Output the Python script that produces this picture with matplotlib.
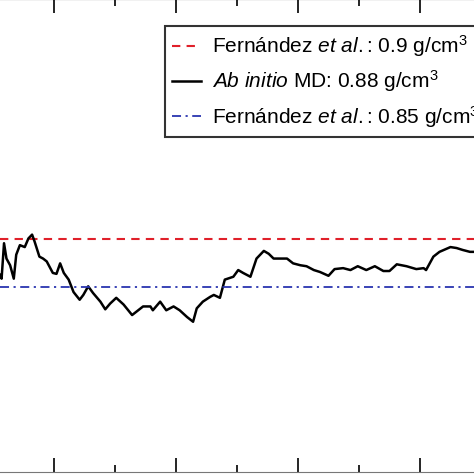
import matplotlib
matplotlib.use("Agg")
import matplotlib.pyplot as plt
from matplotlib.ticker import MultipleLocator

plt.rcParams['font.family'] = ['Liberation Sans', 'DejaVu Sans']
plt.rcParams['mathtext.fontset'] = 'custom'
plt.rcParams['mathtext.rm'] = 'Liberation Sans'
plt.rcParams['mathtext.it'] = 'Liberation Sans:italic'

# density trace from ab initio MD (g/cm^3), time in arbitrary plot units
time = [0.56, 0.57, 0.59, 0.61, 0.64, 0.67, 0.69, 0.72, 0.76, 0.79, 0.82, 0.84,
        0.88, 0.91, 0.94, 0.99, 1.02, 1.05, 1.08, 1.12, 1.16, 1.21, 1.24, 1.28,
        1.32, 1.38, 1.42, 1.46, 1.51, 1.57, 1.64, 1.68, 1.73, 1.79, 1.81, 1.87,
        1.92, 1.98, 2.03, 2.09, 2.14, 2.17, 2.22, 2.28, 2.31, 2.36, 2.40, 2.47,
        2.51, 2.55, 2.61, 2.66, 2.72, 2.76, 2.80, 2.85, 2.91, 2.96, 3.02, 3.07,
        3.13, 3.18, 3.25, 3.30, 3.37, 3.43, 3.49, 3.56, 3.63, 3.70, 3.75, 3.81,
        3.89, 3.97, 4.03, 4.05, 4.11, 4.16, 4.25, 4.30, 4.35, 4.41, 4.44]
density = [0.863, 0.859, 0.896, 0.880, 0.873, 0.859, 0.884, 0.894, 0.892, 0.901,
           0.905, 0.898, 0.882, 0.880, 0.877, 0.865, 0.864, 0.875, 0.865, 0.858,
           0.845, 0.837, 0.842, 0.851, 0.844, 0.835, 0.827, 0.833, 0.839, 0.832,
           0.821, 0.825, 0.830, 0.830, 0.826, 0.835, 0.826, 0.830, 0.826, 0.819,
           0.814, 0.828, 0.835, 0.840, 0.842, 0.839, 0.858, 0.861, 0.868, 0.865,
           0.861, 0.880, 0.888, 0.885, 0.880, 0.880, 0.880, 0.875, 0.873, 0.872,
           0.868, 0.866, 0.862, 0.869, 0.870, 0.868, 0.872, 0.868, 0.872, 0.867,
           0.867, 0.874, 0.872, 0.869, 0.870, 0.868, 0.882, 0.887, 0.892, 0.891,
           0.889, 0.887, 0.887]
ref_high = 0.9
ref_low = 0.85

fig = plt.figure(figsize=(4.74, 4.74), dpi=100)
ax = fig.add_axes([0, 0.004, 1, 0.998])

ax.axhline(ref_high, color='#e0202a', ls=(0, (4, 3)), lw=1.5,
           label=r'Fernández $\it{et\ al.}$: 0.9 g/cm$^3$')
ax.plot(time, density, color='black', lw=1.8,
        label=r'$\it{Ab\ initio}$ MD: 0.88 g/cm$^3$')
ax.axhline(ref_low, color='#2a35b0', ls=(0, (5, 2.5, 1.2, 2.5)), lw=1.3,
           label=r'Fernández $\it{et\ al.}$: 0.85 g/cm$^3$')

ax.set_xlim(0.557, 4.443)
ax.set_ylim(0.657, 1.151)
ax.xaxis.set_major_locator(MultipleLocator(1))
ax.xaxis.set_minor_locator(MultipleLocator(0.5))
ax.tick_params(axis='x', which='both', direction='in', top=True, bottom=True,
               labelbottom=False, width=1.2)
ax.tick_params(axis='x', which='major', length=10)
ax.tick_params(axis='x', which='minor', length=5)
ax.tick_params(axis='y', left=False, labelleft=False)
for s in ['left', 'right']:
    ax.spines[s].set_visible(False)
ax.spines['bottom'].set_color('#777777')

leg = ax.legend(loc='upper left', bbox_to_anchor=(165 / 474, 1 - 27 / 474),
                fontsize=15, frameon=True, fancybox=False, edgecolor='black',
                handlelength=1.4, handletextpad=0.5, labelspacing=0.45,
                borderpad=0.35, borderaxespad=0)
leg.get_frame().set_linewidth(1.5)

fig.savefig('out.png', dpi=100)
